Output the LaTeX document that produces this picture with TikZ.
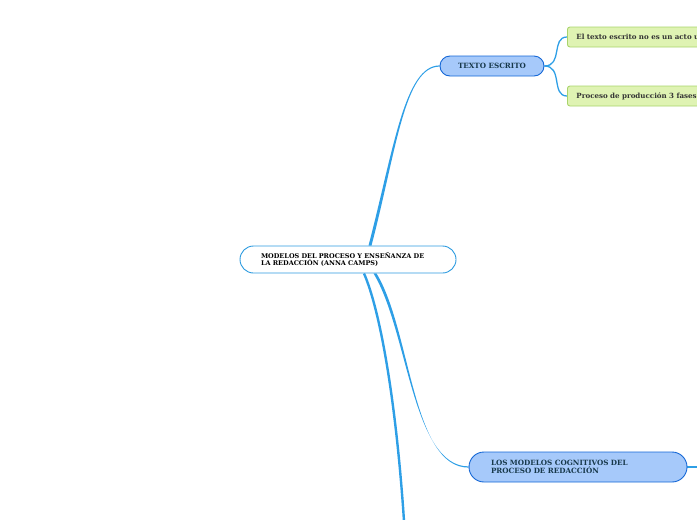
\documentclass[tikz,border=0pt]{standalone}
\usepackage{fontspec}
\setmainfont{DejaVu Serif}
\usetikzlibrary{calc}
\pgfdeclarelayer{background}
\pgfsetlayers{background,main}

\definecolor{wireblue}{HTML}{2E9FE6}
\definecolor{rootblue}{HTML}{2D9BE0}
\definecolor{topicfill}{HTML}{A6C9FA}
\definecolor{topicdraw}{HTML}{1467D6}
\definecolor{topictext}{HTML}{17384A}
\definecolor{leaffill}{HTML}{DFF3B3}
\definecolor{leafdraw}{HTML}{A9D46C}
\definecolor{leaftext}{HTML}{333333}

\tikzset{
  rootbox/.style={draw=rootblue, line width=0.9pt, fill=white, rounded corners=13.5pt,
    minimum width=216pt, minimum height=27pt, inner xsep=21pt, text width=174pt,
    align=left, font=\fontsize{6.5}{7.2}\selectfont\bfseries},
  topicbox/.style={draw=topicdraw, line width=0.9pt, fill=topicfill, text=topictext,
    font=\fontsize{7.2}{8.2}\selectfont\bfseries},
  leafbox/.style={draw=leafdraw, line width=0.9pt, fill=leaffill, text=leaftext,
    rounded corners=2.5pt, minimum height=20pt, inner xsep=9pt, text width=200pt,
    align=left, anchor=west, font=\fontsize{7.1}{8}\selectfont\bfseries},
  wire/.style={fill=wireblue},
  twig/.style={draw=wireblue, line width=1.3pt},
}

\begin{document}
\begin{tikzpicture}[x=1pt, y=-1pt]
    \useasboundingbox (0,0) rectangle (697,520);
    \clip (0,0) rectangle (697,520);

    % nodes
    \node[rootbox] (root) at (348,259.5) {MODELOS DEL PROCESO Y ENSEÑANZA DE\\LA REDACCIÓN (ANNA CAMPS)};
    \node[topicbox, rounded corners=10pt, minimum width=104pt, minimum height=20pt] (texto) at (492,66) {TEXTO ESCRITO};
    \node[leafbox] (acto) at (567,37) {El texto escrito no es un acto u};
    \node[leafbox] (fases) at (567,96) {Proceso de producción 3 fases};
    \node[topicbox, rounded corners=15pt, minimum width=218pt, minimum height=30pt,
      inner xsep=22pt, text width=174pt, align=left] (modelos) at (578,467)
      {LOS MODELOS COGNITIVOS DEL\\PROCESO DE REDACCIÓN};
    \coordinate (down) at (404,521);
    \coordinate (edge) at (698,467);

    % connectors, behind the boxes
    \begin{pgfonlayer}{background}
    \fill[wire] ($(root.north)+(20.5,0)$) .. controls (393.5,150) and (404.5,65.4) .. ($(texto.west)+(0,-0.6)$)
      -- ($(texto.west)+(0,0.6)$) .. controls (404.5,66.6) and (396.5,150) .. ($(root.north)+(23.5,0)$) -- cycle;
    \fill[wire] ($(root.south)+(25.5,0)$) .. controls (408,330) and (412,466.4) .. ($(modelos.west)+(0,-0.6)$)
      -- ($(modelos.west)+(0,0.6)$) .. controls (412,467.6) and (411,330) .. ($(root.south)+(28.5,0)$) -- cycle;
    \draw[wireblue, line width=2.4pt] ($(root.south)+(16,0)$) .. controls (380,310) and (396,400) .. (down);
    \draw[twig] (texto.east) .. controls (563,66) and (551,37) .. (acto.west);
    \draw[twig] (texto.east) .. controls (563,66) and (551,96) .. (fases.west);
    \draw[wireblue, line width=1.2pt] (modelos.east) -- (edge);
    \end{pgfonlayer}
  \end{tikzpicture}
\end{document}
